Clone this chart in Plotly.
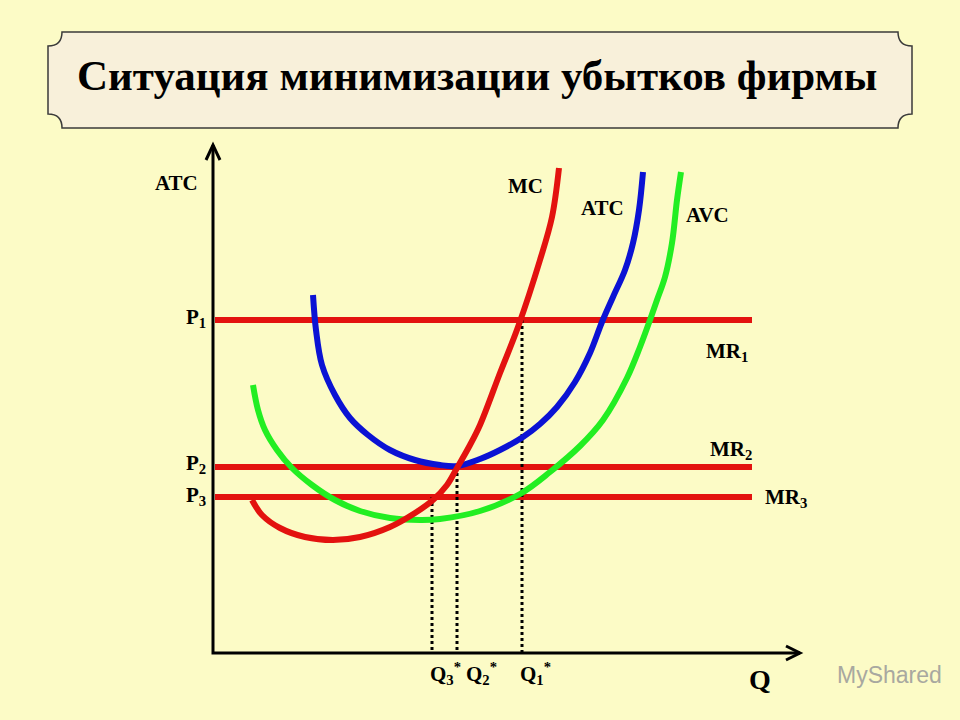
import plotly.graph_objs as go

# Curves (Q along the axis from the origin, P up from the origin)
mc_q = [39, 49, 67, 92, 120, 147, 177, 202, 220, 234, 244, 257, 267, 287, 305, 327, 339, 346]
mc_p = [153, 138, 125, 116, 113, 116, 126, 140, 153, 168, 185, 208, 228, 280, 326, 393, 436, 485]

atc_q = [100, 103, 109, 122, 137, 155, 177, 202, 227, 244, 267, 287, 310, 327, 344, 362, 377,
         389, 400, 412, 420, 426, 430]
atc_p = [358, 323, 288, 258, 235, 218, 203, 193, 188, 187, 194, 203, 216, 229, 246, 271, 300,
         331, 356, 383, 410, 443, 481]

avc_q = [40, 45, 52, 64, 79, 99, 122, 147, 177, 207, 227, 267, 307, 337, 367, 390, 414, 427,
         437, 444, 452, 459, 464, 468]
avc_p = [268, 243, 223, 203, 185, 168, 153, 142, 135, 133, 134, 142, 159, 181, 207, 233, 275, 306,
         333, 353, 376, 410, 453, 481]

# Price levels (MR lines) and the matching outputs
mr_names = ['MR<sub>1</sub>', 'MR<sub>2</sub>', 'MR<sub>3</sub>']
price_names = ['P<sub>1</sub>', 'P<sub>2</sub>', 'P<sub>3</sub>']
mr_prices = [333, 186, 156]
mr_q_range = [2, 539]
q_names = ['Q<sub>1</sub><sup>*</sup>', 'Q<sub>2</sub><sup>*</sup>', 'Q<sub>3</sub><sup>*</sup>']
q_star = [309, 244, 219]

title_text = 'Ситуация минимизации убытков фирмы'

# axis extent
q_max = 587
p_max = 508

W, H = 960, 720
X0, Y0 = 213, 653  # origin in pixels


def px(x, y):
    # pixel -> paper coords (margins are zero)
    return x / W, 1 - y / H


red = '#e3120f'
blue = '#0b12d4'
green = '#22ee22'
serif = 'Liberation Serif'

fig = go.Figure()

# MR lines
for p in mr_prices:
    fig.add_trace(go.Scatter(
        x=mr_q_range, y=[p, p], mode='lines',
        line=dict(color=red, width=6), hoverinfo='skip'
    ))

# dotted drop lines
for q, p in zip(q_star, mr_prices):
    fig.add_trace(go.Scatter(
        x=[q, q], y=[p, 0], mode='lines',
        line=dict(color='black', width=3, dash='3px,3px'), hoverinfo='skip'
    ))

# cost curves
for xs, ys, col in [(avc_q, avc_p, green), (atc_q, atc_p, blue), (mc_q, mc_p, red)]:
    fig.add_trace(go.Scatter(
        x=xs, y=ys, mode='lines',
        line=dict(color=col, width=6, shape='spline', smoothing=1.0),
        hoverinfo='skip'
    ))

# axes
fig.add_trace(go.Scatter(x=[0, 0, q_max], y=[p_max, 0, 0], mode='lines',
                         line=dict(color='black', width=3), hoverinfo='skip'))

shapes = []
# arrow heads
shapes.append(dict(type='path', xref='x', yref='y',
                   path=f'M -7,{p_max - 15} L 0,{p_max} L 7,{p_max - 15}',
                   line=dict(color='black', width=3)))
shapes.append(dict(type='path', xref='x', yref='y',
                   path=f'M {q_max - 14},7 L {q_max},0 L {q_max - 14},-7',
                   line=dict(color='black', width=3)))

# title plate with concave corners
L, R, T, B, r = 48, 912, 32, 128, 14
pts = [
    ('M', L + r, T), ('L', R - r, T), ('Q', R - r, T + r, R, T + r),
    ('L', R, B - r), ('Q', R - r, B - r, R - r, B),
    ('L', L + r, B), ('Q', L + r, B - r, L, B - r),
    ('L', L, T + r), ('Q', L + r, T + r, L + r, T),
]
path = ''
for seg in pts:
    cmd, coords = seg[0], seg[1:]
    xy = []
    for i in range(0, len(coords), 2):
        a, b = px(coords[i], coords[i + 1])
        xy.append(f'{a:.5f},{b:.5f}')
    path += cmd + ' ' + ' '.join(xy) + ' '
path += 'Z'
shapes.append(dict(type='path', xref='paper', yref='paper', path=path,
                   fillcolor='#f8f0da', line=dict(color='#3a3a3a', width=1.5),
                   layer='below'))

annotations = []
font_lbl = dict(family=serif, size=21, color='black')

# title
tx, ty = px(477, 76)
annotations.append(dict(x=tx, y=ty, xref='paper', yref='paper',
                        xanchor='center', yanchor='middle', text=f'<b>{title_text}</b>',
                        showarrow=False, font=dict(family=serif, size=43, color='black')))

# y-axis label
annotations.append(dict(x=-37, y=470, text='<b>ATC</b>', showarrow=False, font=font_lbl))

# price labels
for name, p, dy in zip(price_names, mr_prices, [-1, 0, -2]):
    annotations.append(dict(x=-5, y=p + 3 + dy, text=f'<b>{name}</b>', showarrow=False,
                            xanchor='right', font=font_lbl))

# MR labels
mr_lbl_pos = [(514, 301), (518, 203), (573, 155)]
for name, (x, y) in zip(mr_names, mr_lbl_pos):
    annotations.append(dict(x=x, y=y, text=f'<b>{name}</b>', showarrow=False, font=font_lbl))

# curve labels
for name, x, y in [('MC', 312, 467), ('ATC', 389, 445), ('AVC', 494, 438)]:
    annotations.append(dict(x=x, y=y, text=f'<b>{name}</b>', showarrow=False, font=font_lbl))

# Q labels
q_lbl_x = [322, 268, 232]
for name, x in zip(q_names, q_lbl_x):
    annotations.append(dict(x=x, y=-20, text=f'<b>{name}</b>', showarrow=False, font=font_lbl))
annotations.append(dict(x=547, y=-26, text='<b>Q</b>', showarrow=False,
                        font=dict(family=serif, size=28, color='black')))

# watermark
annotations.append(dict(x=622, y=-22, text='MyShared', showarrow=False, xanchor='left',
                        font=dict(family='Liberation Sans', size=23, color='#a8a8a0')))

fig.update_layout(
    width=W, height=H,
    margin=dict(l=0, r=0, t=0, b=0),
    paper_bgcolor='#fcfbc6',
    plot_bgcolor='#fcfbc6',
    showlegend=False,
    xaxis=dict(range=[-X0, W - X0], visible=False, fixedrange=True),
    yaxis=dict(range=[Y0 - H, Y0], visible=False, fixedrange=True),
    shapes=shapes,
    annotations=annotations,
)

fig.write_html('out.html', config=dict(displayModeBar=False),
               post_script="document.body.style.margin='0';")
